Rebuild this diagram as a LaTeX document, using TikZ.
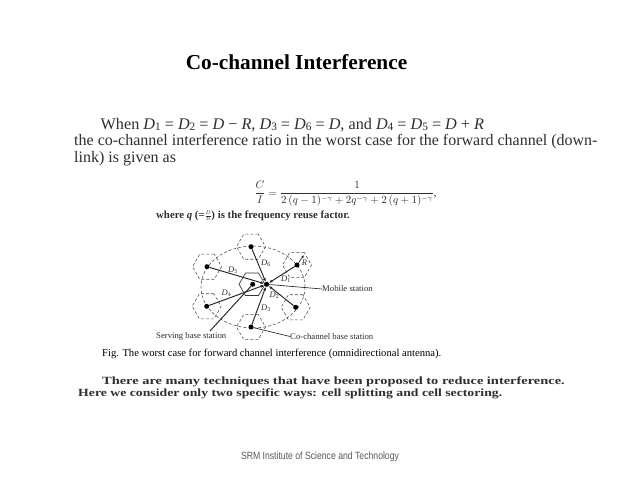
\documentclass[tikz,border=0pt]{standalone}
\usepackage{fontspec}
\usepackage{amsmath}
\setmainfont{Liberation Serif}
\setsansfont{Liberation Sans}
\usetikzlibrary{arrows.meta,shapes.geometric}
\definecolor{ink}{gray}{0.18}
\newcommand{\Dn}[1]{\textit{D}\raisebox{-0.2ex}{\scalebox{0.7}{#1}}}
\tikzset{
 x=1pt,y=-1pt,
 txt/.style={inner sep=0pt,anchor=west,text=ink,font=\fontsize{16}{16}\selectfont},
 lab/.style={inner sep=0pt,text=ink,font=\fontsize{8.5}{9}\selectfont},
 tag/.style={inner sep=0pt,anchor=west,text=ink,font=\fontsize{8.7}{9}\selectfont},
 site/.style={circle,fill=black,inner sep=0pt,minimum size=5pt},
 cell/.style={regular polygon,regular polygon sides=6,draw=black!70,densely dashed,line width=.55pt,minimum size=29pt,inner sep=0pt},
 ray/.style={draw=black!85,line width=.95pt},
 tie/.style={draw=black!85,line width=.65pt},
}
\begin{document}
\begin{tikzpicture}
\useasboundingbox (0,0) rectangle (638,478);
\fill[white] (0,0) rectangle (638,478);
\node[inner sep=0pt,font=\bfseries\fontsize{21.3}{23}\selectfont] (title) at (296.5,62) {Co-channel Interference};
\node[txt,font=\fontsize{16.2}{16}\selectfont] (l1) at (100.5,125) {When \Dn{1} = \Dn{2} = \textit{D} − \textit{R}, \Dn{3} = \Dn{6} = \textit{D}, and \Dn{4} = \Dn{5} = \textit{D} + \textit{R}};
\node[txt] (l2) at (74,142) {the co-channel interference ratio in the worst case for the forward channel (down-};
\node[txt] (l3) at (74,159) {link) is given as};
\node[inner sep=0pt,text=ink,font=\fontsize{10.5}{11}\selectfont] (eq) at (345.5,194) {$\dfrac{C}{I}=\dfrac{1}{2\,(q-1)^{-\gamma}+2q^{-\gamma}+2\,(q+1)^{-\gamma}}$,};
\node[txt,font=\bfseries\fontsize{10.8}{11}\selectfont] (where) at (156,215.5) {where \textit{q} (=\raisebox{0.1ex}{\scalebox{0.7}{$\frac{D}{R}$}}) is the frequency reuse factor.};
% diagram
\draw[densely dashed,draw=black!70,line width=.55pt] (253,287) ellipse (52 and 41);
\node[cell] (c1) at (297,265) {};
\node[cell] (c2) at (295.7,307.3) {};
\node[cell] (c3) at (251,327) {};
\node[cell] (c4) at (206.7,306.3) {};
\node[cell] (c5) at (207,266.7) {};
\node[cell] (c6) at (251,246.7) {};
\node[regular polygon,regular polygon sides=6,draw=black!80,line width=.65pt,minimum size=26pt,inner sep=0pt] (srv) at (252,284.3) {};
\node[site] (b1) at (297,265) {};
\node[site] (b2) at (295.7,307.3) {};
\node[site] (b3) at (251,327) {};
\node[site] (b4) at (206.7,306.3) {};
\node[site] (b5) at (207,266.7) {};
\node[site] (b6) at (251,246.7) {};
\node[site] (b0) at (252.7,284.3) {};
\node[site] (ms) at (266.7,284.3) {};
\foreach \i in {1,...,6}{\draw[ray,-{Latex[length=3.5pt,width=3pt]}] (b\i) -- (ms);}
\node[lab] (d1) at (286,279.5) {\textit{D}\textsubscript{1}};
\node[lab] (d2) at (274.5,295.5) {\textit{D}\textsubscript{2}};
\node[lab] (d3) at (266,308.5) {\textit{D}\textsubscript{3}};
\node[lab] (d4) at (226.5,293) {\textit{D}\textsubscript{4}};
\node[lab] (d5) at (233,270) {\textit{D}\textsubscript{5}};
\node[lab] (d6) at (266,263) {\textit{D}\textsubscript{6}};
\node[lab] (r) at (304.5,262.5) {\textit{R}};
\coordinate (rb) at (304,255);
\draw[tie,-{Latex[length=3pt,width=2.5pt]}] (b1) -- (rb);
\node[tag] (mt) at (322,289) {Mobile station};
\node[tag] (st) at (156,336.5) {Serving base station};
\node[tag] (ct) at (290,336.5) {Co-channel base station};
\draw[tie] (mt.west) -- (ms);
\coordinate (sa) at (210,331);
\draw[ray] (sa) -- (b0);
\draw[tie] (ct.west) -- (b3);
\node[inner sep=0pt,anchor=west,font=\fontsize{10.6}{12}\selectfont] (fig) at (102,353.5) {Fig. The worst case for forward channel interference (omnidirectional antenna).};
\node[txt,font=\bfseries\fontsize{11}{12}\selectfont] (t1) at (102,382) {\scalebox{1.31}[1]{There are many techniques that have been proposed to reduce interference.}};
\node[txt,font=\bfseries\fontsize{11}{12}\selectfont] (t2) at (78,394) {\scalebox{1.25}[1]{Here we consider only two specific ways: cell splitting and cell sectoring.}};
\node[inner sep=0pt,text=black!65,font=\sffamily\fontsize{10.5}{12}\selectfont] (foot) at (320,456.5) {\scalebox{0.825}[1]{SRM Institute of Science and Technology}};
\end{tikzpicture}
\end{document}
